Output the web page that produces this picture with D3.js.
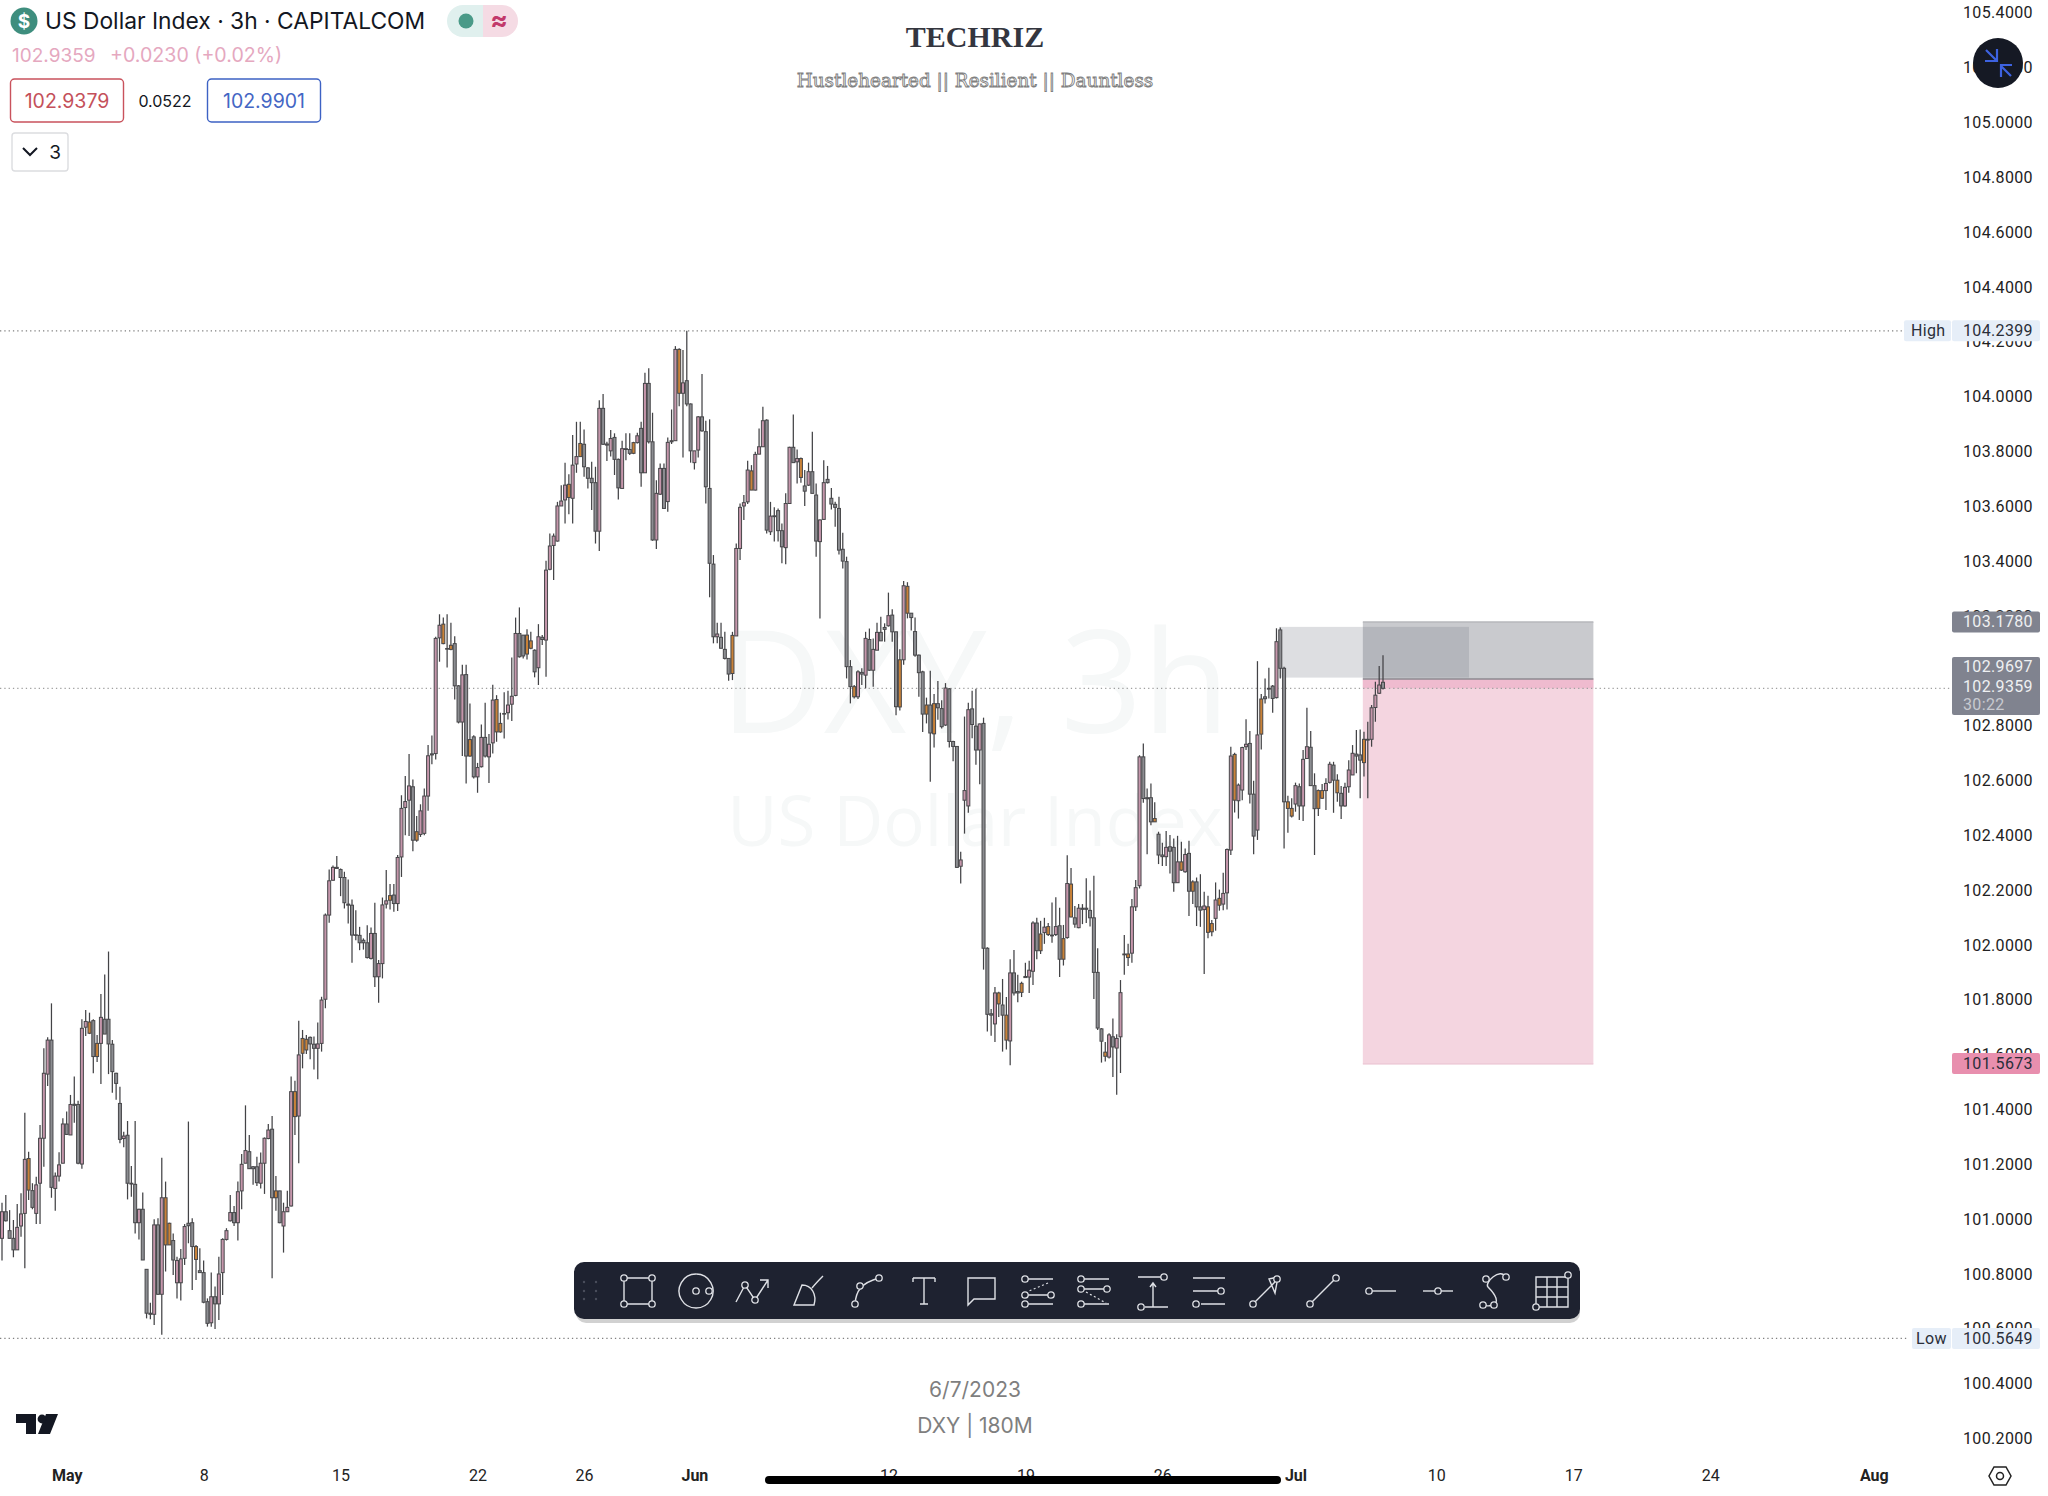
<!DOCTYPE html>
<html>
<head>
<meta charset="utf-8">
<title>US Dollar Index 3h</title>
<script src="https://cdn.jsdelivr.net/npm/d3@7"></script>
<style>
  html, body { margin: 0; padding: 0; background: #fff; }
  svg { display: block; }
  text { font-family: Inter, Roboto, sans-serif; }
</style>
</head>
<body>
<div id="chart"></div>
<script>
// candle values (one entry per 3h candle, oldest first)
var opens = [
100.930,101.027,100.958,100.930,100.888,100.975,101.021,101.221,101.104,101.021,
101.131,101.295,101.529,101.653,101.112,101.157,101.204,101.347,101.307,101.419,
101.418,101.201,101.700,101.719,101.724,101.641,101.641,101.729,101.729,101.638,
101.532,101.422,101.294,101.306,101.131,101.127,100.987,101.036,100.817,100.657,
100.653,100.979,100.726,101.078,100.985,100.922,100.768,100.768,100.857,100.985,
100.987,100.900,100.812,100.805,100.699,100.622,100.717,100.691,100.805,100.926,
100.994,101.024,100.987,101.103,101.204,101.246,101.191,101.191,101.131,101.204,
101.294,101.328,101.103,101.103,100.975,101.027,101.048,101.465,101.376,101.659,
101.656,101.663,101.638,101.623,101.641,101.802,102.109,102.236,102.283,102.275,
102.246,102.149,102.145,102.037,102.035,102.017,102.008,101.951,102.042,101.884,
101.932,102.149,102.180,102.182,102.151,102.321,102.501,102.528,102.577,102.413,
102.403,102.407,102.543,102.697,102.698,103.120,103.170,103.081,103.093,103.099,
102.945,102.813,102.986,102.749,102.759,102.613,102.650,102.757,102.686,102.737,
102.895,102.808,102.844,102.847,102.878,102.910,103.136,103.130,103.130,103.109,
103.075,103.011,103.122,103.112,103.370,103.457,103.473,103.601,103.623,103.680,
103.629,103.754,103.829,103.826,103.740,103.702,103.686,103.509,103.957,103.827,
103.802,103.851,103.771,103.665,103.810,103.807,103.832,103.832,103.884,103.722,
104.048,103.835,103.477,103.644,103.738,103.617,103.835,103.839,104.172,104.012,
104.058,103.973,103.759,103.805,103.926,103.872,103.665,103.389,103.124,103.122,
103.078,103.045,103.129,103.127,103.446,103.601,103.616,103.729,103.659,103.790,
103.817,103.914,103.507,103.565,103.584,103.511,103.449,103.610,103.815,103.762,
103.774,103.674,103.677,103.726,103.641,103.471,103.552,103.698,103.629,103.607,
103.592,103.443,103.398,103.015,102.942,102.905,102.994,102.984,103.114,103.002,
103.075,103.140,103.158,103.164,103.203,103.142,103.040,103.040,103.308,103.210,
103.143,103.057,102.996,102.875,102.875,102.880,102.880,102.862,102.802,102.934,
102.742,102.724,102.287,102.528,102.507,102.861,102.798,102.711,102.808,101.988,
101.749,101.712,101.825,101.781,101.744,101.650,101.898,101.830,101.860,101.885,
101.883,101.904,102.080,102.040,102.045,102.067,102.036,102.038,102.070,102.023,
102.027,102.222,102.099,102.063,102.134,102.134,102.126,102.099,101.900,101.694,
101.609,101.591,101.665,101.624,101.665,101.967,101.967,101.970,102.139,102.216,
102.686,102.537,102.537,102.461,102.404,102.328,102.322,102.358,102.356,102.227,
102.303,102.267,102.334,102.230,102.230,102.139,102.129,102.139,102.078,102.097,
102.170,102.149,102.190,102.346,102.695,102.526,102.565,102.723,102.735,102.550,
102.419,102.897,102.905,102.933,102.944,102.902,103.149,103.009,102.522,102.498,
102.514,102.577,102.507,102.680,102.721,102.581,102.563,102.563,102.563,102.593,
102.656,102.601,102.553,102.507,102.577,102.620,102.696,102.693,102.750,102.750,
102.750,102.866,102.918,102.958
];
var closes = [
101.027,100.994,100.930,100.888,100.970,101.019,101.218,101.106,101.043,101.125,
101.295,101.532,101.653,101.116,101.157,101.198,101.347,101.309,101.418,101.415,
101.204,101.696,101.721,101.678,101.593,101.593,101.736,101.675,101.639,101.538,
101.495,101.291,101.303,101.131,101.128,100.987,101.036,100.851,100.657,100.653,
100.979,100.726,101.078,100.906,100.906,100.851,100.849,100.855,100.973,100.976,
100.900,100.853,100.805,100.697,100.620,100.717,100.691,100.800,100.926,100.958,
101.024,100.987,101.100,101.200,101.250,101.184,101.184,101.133,101.204,101.295,
101.325,101.078,101.078,100.987,101.027,101.043,101.465,101.374,101.599,101.605,
101.617,101.639,101.623,101.639,101.799,102.109,102.234,102.283,102.279,102.246,
102.154,102.145,102.036,102.035,102.008,102.008,101.954,102.042,101.884,101.932,
102.146,102.161,102.163,102.151,102.319,102.498,102.523,102.580,102.382,102.382,
102.489,102.543,102.690,102.693,103.118,103.166,103.099,103.079,103.078,102.945,
102.813,102.985,102.689,102.689,102.613,102.647,102.757,102.689,102.732,102.893,
102.777,102.777,102.842,102.875,102.907,103.136,103.051,103.054,103.061,103.082,
102.996,103.124,103.114,103.367,103.455,103.491,103.601,103.619,103.677,103.632,
103.750,103.781,103.781,103.744,103.702,103.686,103.509,103.957,103.826,103.823,
103.847,103.771,103.667,103.810,103.807,103.793,103.793,103.857,103.722,104.048,
103.835,103.477,103.647,103.738,103.592,103.833,103.839,104.172,104.012,104.050,
103.973,103.802,103.802,103.926,103.875,103.671,103.392,103.124,103.134,103.082,
103.045,102.988,102.990,103.446,103.596,103.613,103.732,103.659,103.789,103.817,
103.912,103.513,103.564,103.562,103.511,103.452,103.610,103.815,103.759,103.774,
103.705,103.655,103.726,103.647,103.473,103.550,103.686,103.686,103.608,103.596,
103.440,103.400,103.015,102.942,102.905,102.996,102.988,103.118,103.002,103.078,
103.140,103.109,103.151,103.201,103.142,102.869,102.868,103.310,103.210,103.194,
103.057,102.993,102.842,102.842,102.773,102.770,102.865,102.796,102.937,102.742,
102.724,102.283,102.310,102.563,102.858,102.804,102.711,102.806,101.988,101.747,
101.744,101.825,101.785,101.744,101.653,101.898,101.825,101.825,101.827,101.881,
101.908,102.080,101.979,101.979,102.065,102.038,102.033,102.067,101.948,101.948,
102.224,102.102,102.076,102.134,102.130,102.130,102.099,101.900,101.697,101.649,
101.594,101.672,101.628,101.659,101.826,101.964,101.954,102.139,102.209,102.686,
102.534,102.533,102.449,102.449,102.328,102.322,102.356,102.342,102.227,102.303,
102.273,102.330,102.196,102.196,102.139,102.127,102.142,102.046,102.048,102.164,
102.145,102.188,102.348,102.689,102.528,102.583,102.720,102.732,102.550,102.397,
102.766,102.769,102.898,102.936,102.899,103.106,103.009,102.522,102.498,102.470,
102.581,102.507,102.677,102.723,102.581,102.497,102.498,102.535,102.589,102.659,
102.601,102.555,102.507,102.575,102.638,102.699,102.689,102.674,102.665,102.747,
102.865,102.911,102.948,102.936
];
var highs = [
101.060,101.088,101.033,100.997,101.055,101.094,101.388,101.246,101.131,101.155,
101.343,101.623,101.663,101.787,101.170,101.244,101.368,101.393,101.453,101.520,
101.432,101.729,101.763,101.753,101.729,101.672,101.821,101.892,101.976,101.653,
101.534,101.483,101.319,101.358,101.194,101.358,101.038,101.097,100.817,100.695,
101.000,101.003,101.224,101.137,100.987,100.948,100.863,100.891,100.982,101.356,
101.003,100.906,100.894,100.849,100.711,100.805,100.754,100.863,100.930,100.967,
101.088,101.048,101.137,101.238,101.415,101.307,101.194,101.228,101.243,101.298,
101.347,101.376,101.157,101.104,101.060,101.104,101.520,101.505,101.724,101.690,
101.672,101.666,101.666,101.717,101.811,102.115,102.275,102.290,102.324,102.279,
102.267,102.239,102.166,102.127,102.066,102.024,102.072,102.064,102.154,101.945,
102.173,102.273,102.222,102.222,102.328,102.546,102.616,102.696,102.603,102.470,
102.513,102.571,102.729,102.764,103.124,103.206,103.194,103.206,103.175,103.126,
102.948,103.022,103.022,102.881,102.765,102.664,102.804,102.883,102.769,102.949,
102.911,102.847,102.922,102.927,103.048,103.194,103.231,103.130,103.151,103.142,
103.078,103.170,103.130,103.401,103.501,103.501,103.616,103.677,103.759,103.717,
103.860,103.908,103.908,103.880,103.742,103.762,103.744,103.987,104.009,103.835,
103.878,103.866,103.774,103.839,103.866,103.866,103.835,103.868,103.908,104.087,
104.103,103.941,103.695,103.756,103.756,103.851,103.953,104.184,104.176,104.170,
104.240,103.975,103.802,103.929,104.082,103.912,103.917,103.422,103.175,103.175,
103.142,103.045,103.142,103.464,103.610,103.641,103.766,103.750,103.799,103.884,
103.963,103.917,103.616,103.596,103.592,103.537,103.647,103.817,103.935,103.807,
103.778,103.732,103.759,103.872,103.683,103.552,103.768,103.747,103.667,103.616,
103.635,103.503,103.416,103.039,102.948,103.002,103.009,103.142,103.154,103.118,
103.175,103.197,103.173,103.285,103.224,103.142,103.078,103.327,103.323,103.210,
103.194,103.059,103.000,102.902,103.000,102.915,102.963,102.892,102.955,102.937,
102.745,102.726,102.340,102.833,102.883,102.927,102.934,102.808,102.829,101.992,
101.766,101.847,101.829,101.876,101.810,101.948,101.982,101.891,101.866,101.935,
101.942,102.086,102.099,102.088,102.099,102.080,102.155,102.174,102.136,102.073,
102.327,102.281,102.142,102.149,102.149,102.243,102.199,102.252,101.988,101.697,
101.646,101.678,101.732,101.674,101.872,102.036,102.004,102.168,102.237,102.692,
102.735,102.571,102.589,102.520,102.413,102.373,102.416,102.401,102.388,102.398,
102.376,102.352,102.380,102.236,102.246,102.258,102.194,102.179,102.091,102.228,
102.202,102.263,102.352,102.723,102.701,102.589,102.723,102.823,102.780,102.599,
103.035,102.915,102.972,103.011,102.948,103.155,103.158,103.015,102.544,102.535,
102.592,102.589,102.711,102.865,102.780,102.626,102.567,102.587,102.608,102.668,
102.668,102.623,102.580,102.592,102.674,102.729,102.784,102.786,102.778,102.814,
102.875,102.960,103.017,103.057
];
var lows = [
100.849,100.991,100.930,100.861,100.888,100.936,100.821,101.070,101.036,100.982,
100.982,101.191,101.486,101.078,101.031,101.137,101.204,101.307,101.307,101.352,
101.200,101.184,101.668,101.675,101.532,101.573,101.493,101.675,101.529,101.461,
101.435,101.277,101.262,101.072,101.082,100.948,100.926,100.851,100.638,100.635,
100.614,100.723,100.578,100.809,100.906,100.796,100.711,100.703,100.833,100.912,
100.742,100.778,100.805,100.693,100.608,100.608,100.599,100.632,100.723,100.922,
100.991,100.975,100.922,101.036,101.204,101.184,101.125,101.121,101.112,101.092,
101.291,100.784,101.031,100.985,100.878,101.026,101.046,101.307,101.204,101.550,
101.602,101.583,101.546,101.510,101.611,101.769,102.081,102.234,102.278,102.178,
102.133,102.078,101.935,102.017,101.981,101.983,101.951,101.947,101.847,101.789,
101.878,102.133,102.129,102.121,102.124,102.248,102.400,102.397,102.342,102.376,
102.394,102.400,102.489,102.659,102.676,103.033,103.097,103.012,103.075,102.895,
102.808,102.689,102.589,102.686,102.607,102.555,102.647,102.684,102.591,102.698,
102.741,102.774,102.753,102.822,102.817,102.907,103.048,103.045,103.041,103.078,
102.976,102.948,103.094,102.978,103.367,103.331,103.471,103.601,103.537,103.571,
103.537,103.722,103.781,103.708,103.665,103.586,103.464,103.437,103.823,103.765,
103.781,103.714,103.625,103.665,103.768,103.787,103.790,103.829,103.671,103.722,
103.829,103.474,103.444,103.641,103.592,103.580,103.827,103.839,103.965,103.778,
103.965,103.759,103.734,103.778,103.872,103.610,103.268,103.100,103.100,103.082,
103.041,102.964,102.966,103.127,103.404,103.550,103.608,103.659,103.657,103.790,
103.817,103.501,103.495,103.471,103.471,103.392,103.388,103.610,103.759,103.683,
103.686,103.601,103.674,103.647,103.416,103.191,103.550,103.683,103.588,103.525,
103.424,103.373,102.972,102.881,102.899,102.897,102.948,102.936,103.000,102.942,
103.075,103.109,103.106,103.161,103.106,102.838,102.855,103.022,103.191,103.147,
103.051,102.905,102.777,102.808,102.595,102.720,102.821,102.789,102.799,102.720,
102.670,102.281,102.224,102.406,102.482,102.754,102.657,102.586,101.910,101.684,
101.669,101.646,101.737,101.611,101.619,101.561,101.816,101.791,101.810,101.883,
101.825,101.854,101.948,101.967,102.004,102.033,102.008,102.033,101.883,101.925,
102.023,102.101,102.063,102.061,102.076,102.080,102.067,101.803,101.690,101.571,
101.575,101.586,101.518,101.454,101.533,101.891,101.923,101.935,102.124,102.206,
102.519,102.331,102.437,102.449,102.295,102.288,102.288,102.261,102.194,102.227,
102.270,102.263,102.106,102.149,102.069,102.066,101.894,102.024,102.032,102.052,
102.125,102.127,102.129,102.328,102.483,102.461,102.528,102.711,102.516,102.331,
102.383,102.713,102.881,102.899,102.847,102.899,102.972,102.352,102.409,102.465,
102.486,102.456,102.452,102.680,102.581,102.328,102.470,102.532,102.492,102.589,
102.482,102.522,102.459,102.504,102.555,102.620,102.626,102.535,102.614,102.535,
102.723,102.814,102.915,102.932
];
// candles painted orange on the chart (1-based position in the lists above)
var orangeCandles = [8,24,26,44,45,52,73,78,80,81,103,110,117,119,124,131,132,139,140,150,153,167,179,193,198,
  211,225,237,239,244,246,263,265,269,274,276,280,282,291,297,304,311,314,318,319,321,325,332,339,340,347,348,352,359];

var priceTicks = [105.4,105.2,105.0,104.8,104.6,104.4,104.2,104.0,103.8,103.6,103.4,103.2,103.0,102.8,102.6,102.4,102.2,102.0,101.8,101.6,101.4,101.2,101.0,100.8,100.6,100.4,100.2];
var timeTickPos = [17,53,89,125,153,182,233,269,305,340,377,413,449,492];
var timeTickLabels = ["May","8","15","22","26","Jun","12","19","26","Jul","10","17","24","Aug"];
var boldTimeLabels = ["May","Jun","Jul","Aug"];

var lastPrice = 102.9359, highPrice = 104.2399, lowPrice = 100.5649;
var entryPrice = 102.9697, stopPrice = 103.1780, targetPrice = 101.5673;
var positionSpan = [357.7, 418.3];
var zoneSpan = [335.7, 385.6], zonePrices = [103.16, 102.975];

// set up the drawing
var width = 2048, height = 1496;
var svg = d3.select("#chart").append("svg")
  .attr("width", width)
  .attr("height", height);

var x = d3.scaleLinear().domain([0, opens.length - 1]).range([2, 1383]);
var y = d3.scaleLinear().domain([105.4, 100.2]).range([12.7, 1438.5]);

// watermark
svg.append("text").attr("x", 975).attr("y", 733).attr("text-anchor", "middle")
  .style("font-size", "143px").style("fill", "#f6f8f8").style("font-family", "'Open Sans', sans-serif").text("DXY, 3h");
svg.append("text").attr("x", 975).attr("y", 846).attr("text-anchor", "middle")
  .style("font-size", "69px").style("fill", "#f6f8f8").style("font-family", "'Open Sans', sans-serif").text("US Dollar Index");

// y axis
var yAxis = svg.append("g")
  .attr("transform", "translate(1963,0)")
  .call(d3.axisRight(y).tickValues(priceTicks).tickSize(0).tickPadding(0).tickFormat(d3.format(".4f")));
yAxis.select(".domain").remove();
yAxis.selectAll("text").style("font-size", "16px").style("font-family", "Roboto, sans-serif").style("fill", "#222").style("letter-spacing", "0.35px");

// x axis
var xAxis = svg.append("g")
  .attr("transform", "translate(0,1470)")
  .call(d3.axisBottom(x).tickValues(timeTickPos).tickSize(0).tickPadding(0)
    .tickFormat(function(d, i) { return timeTickLabels[i]; }));
xAxis.select(".domain").remove();
xAxis.selectAll("text").style("font-size", "16px").style("font-family", "Roboto, sans-serif").style("fill", "#222")
  .style("font-weight", function(d, i) { return boldTimeLabels.indexOf(timeTickLabels[i]) >= 0 ? "bold" : "normal"; });

// short position and zone boxes
svg.append("rect").attr("x", x(positionSpan[0])).attr("width", x(positionSpan[1]) - x(positionSpan[0]))
  .attr("y", y(entryPrice)).attr("height", y(targetPrice) - y(entryPrice)).style("fill", "#f4d5e0");
svg.append("rect").attr("x", x(positionSpan[0])).attr("width", x(positionSpan[1]) - x(positionSpan[0]))
  .attr("y", y(entryPrice)).attr("height", y(lastPrice) - y(entryPrice)).style("fill", "#efbbcf");
svg.append("rect").attr("x", x(positionSpan[0])).attr("width", x(positionSpan[1]) - x(positionSpan[0]))
  .attr("y", y(stopPrice)).attr("height", y(entryPrice) - y(stopPrice)).style("fill", "#c9cace");
svg.append("line").attr("x1", x(positionSpan[0])).attr("x2", x(positionSpan[1]))
  .attr("y1", y(stopPrice)).attr("y2", y(stopPrice)).style("stroke", "#b6b7bb").style("stroke-width", 1.5);
svg.append("rect").attr("x", x(positionSpan[0])).attr("width", x(positionSpan[1]) - x(positionSpan[0]))
  .attr("y", y(targetPrice) - 0.5).attr("height", 1.5).style("fill", "#edc8d6");
svg.append("rect").attr("x", x(zoneSpan[0])).attr("width", x(zoneSpan[1]) - x(zoneSpan[0]))
  .attr("y", y(zonePrices[0])).attr("height", y(zonePrices[1]) - y(zonePrices[0]))
  .style("fill", "#787b86").style("fill-opacity", 0.25);
svg.append("line").attr("x1", x(positionSpan[0])).attr("x2", x(positionSpan[1]))
  .attr("y1", y(entryPrice)).attr("y2", y(entryPrice)).style("stroke", "#8d8a90").style("stroke-width", 1.5);

// dotted price lines
[[highPrice, "#808080", 1904], [lastPrice, "#a0a0a0", 1952], [lowPrice, "#808080", 1908]].forEach(function(d) {
  svg.append("line").attr("x1", 0).attr("x2", d[2]).attr("y1", y(d[0])).attr("y2", y(d[0]))
    .style("stroke", d[1]).style("stroke-width", 1.3).style("stroke-dasharray", "1.3 3");
});

// candles
var candles = opens.map(function(o, i) {
  return { i: i, o: o, h: highs[i], l: lows[i], c: closes[i], orange: orangeCandles.indexOf(i + 1) >= 0 };
});
var candle = svg.append("g").selectAll("g").data(candles).enter().append("g");
candle.append("line")
  .attr("x1", function(d) { return x(d.i); })
  .attr("x2", function(d) { return x(d.i); })
  .attr("y1", function(d) { return y(d.h); })
  .attr("y2", function(d) { return y(d.l); })
  .style("stroke", "#434346").style("stroke-width", 1.25);
candle.append("rect")
  .attr("x", function(d) { return x(d.i) - 1.5; })
  .attr("width", 3)
  .attr("y", function(d) { return y(Math.max(d.o, d.c)); })
  .attr("height", function(d) { return Math.max(0.6, Math.abs(y(d.o) - y(d.c))); })
  .style("fill", function(d) { return d.orange ? "#c98238" : (d.c >= d.o ? "#c596ab" : "#8c8d91"); })
  .style("stroke", "#47474a").style("stroke-width", 1);

// price tags on the right
function tag(x0, x1, yc, h, fill) {
  svg.append("rect").attr("x", x0).attr("y", yc - h / 2).attr("width", x1 - x0).attr("height", h).attr("rx", 2).style("fill", fill);
}
function tagText(txt, yc, color, x0) {
  svg.append("text").attr("x", x0 || 1963).attr("y", yc).attr("dy", "0.32em").style("font-size", "16px")
    .style("font-family", "Roboto, sans-serif").style("letter-spacing", "0.35px").style("fill", color).text(txt);
}
tag(1904, 1951, y(highPrice), 21, "#e6eef8"); tag(1952, 2040, y(highPrice), 21, "#e6eef8");
tagText("High", y(highPrice), "#2a2e39", 1911); tagText(highPrice.toFixed(4), y(highPrice), "#2a2e39");
tag(1912, 1951, y(lowPrice), 21, "#e6eef8"); tag(1952, 2040, y(lowPrice), 21, "#e6eef8");
tagText("Low", y(lowPrice), "#2a2e39", 1916); tagText(lowPrice.toFixed(4), y(lowPrice), "#2a2e39");
tag(1952, 2040, y(stopPrice), 21, "#80838f"); tagText(stopPrice.toFixed(4), y(stopPrice), "#eef0f2");
tag(1952, 2040, 686, 58, "#80838f");
tagText(entryPrice.toFixed(4), 667, "#eef0f2"); tagText(lastPrice.toFixed(4), 687, "#eef0f2"); tagText("30:22", 705, "#c8cad0");
tag(1952, 2040, y(targetPrice), 21, "#e88fae"); tagText(targetPrice.toFixed(4), y(targetPrice), "#2a2e39");

// collapse button
svg.append("circle").attr("cx", 1998).attr("cy", 63).attr("r", 25).style("fill", "#151924");
svg.append("path").attr("d", "M1986 50 L1997 61 M1985 61 H1997 V49 M2011 76 L2001 66 M2001 77 V65 H2012")
  .style("fill", "none").style("stroke", "#3d62e0").style("stroke-width", 2.2);

// title
svg.append("text").attr("x", 975).attr("y", 47).attr("text-anchor", "middle")
  .style("font-family", "'Liberation Serif', serif").style("font-weight", "bold").style("font-size", "30px").style("fill", "#34363f").text("TECHRIZ");
svg.append("text").attr("x", 975).attr("y", 87).attr("text-anchor", "middle")
  .style("font-family", "'DejaVu Serif', serif").style("font-size", "18.4px").style("fill", "#fff").style("stroke", "#808080").style("stroke-width", 0.9)
  .text("Hustlehearted || Resilient || Dauntless");

// legend top left
svg.append("circle").attr("cx", 24).attr("cy", 21).attr("r", 13.5).style("fill", "#3e8e7e");
svg.append("text").attr("x", 24).attr("y", 28).attr("text-anchor", "middle").style("font-size", "19px").style("font-weight", "bold").style("fill", "#fff").text("$");
svg.append("text").attr("x", 45).attr("y", 29).style("font-size", "22.8px").style("fill", "#131722").text("US Dollar Index · 3h · CAPITALCOM");
svg.append("path").attr("d", "M483 5 H463 A16 16 0 0 0 463 37 H483 Z").style("fill", "#e0f0ee");
svg.append("path").attr("d", "M483 5 H502 A16 16 0 0 1 502 37 H483 Z").style("fill", "#f5dbe4");
svg.append("circle").attr("cx", 466).attr("cy", 21).attr("r", 7.5).style("fill", "#4a9a88");
svg.append("text").attr("x", 499).attr("y", 29).attr("text-anchor", "middle").style("font-size", "26px").style("font-weight", "bold").style("fill", "#c2396b").text("≈");
svg.append("text").attr("x", 12).attr("y", 62).style("font-size", "19px").style("fill", "#e5a8bf").text(lastPrice.toFixed(4));
svg.append("text").attr("x", 110).attr("y", 62).style("font-size", "19.6px").style("fill", "#e5a8bf").text("+0.0230 (+0.02%)");
svg.append("rect").attr("x", 10.5).attr("y", 79).attr("width", 113).attr("height", 43).attr("rx", 4).style("fill", "#fff").style("stroke", "#c9525c").style("stroke-width", 1.4);
svg.append("text").attr("x", 67).attr("y", 107.5).attr("text-anchor", "middle").style("font-size", "19.5px").style("fill", "#c4505a").text("102.9379");
svg.append("text").attr("x", 165).attr("y", 106.5).attr("text-anchor", "middle").style("font-size", "16px").style("fill", "#131722").text("0.0522");
svg.append("rect").attr("x", 207.5).attr("y", 79).attr("width", 113).attr("height", 43).attr("rx", 4).style("fill", "#fff").style("stroke", "#3d62c4").style("stroke-width", 1.4);
svg.append("text").attr("x", 264).attr("y", 107.5).attr("text-anchor", "middle").style("font-size", "19.5px").style("fill", "#4466c4").text("102.9901");
svg.append("rect").attr("x", 12).attr("y", 133).attr("width", 56).attr("height", 38).attr("rx", 3).style("fill", "#fff").style("stroke", "#dcdde0").style("stroke-width", 1.4);
svg.append("path").attr("d", "M23 148 L30 155 L37 148").style("fill", "none").style("stroke", "#131722").style("stroke-width", 2);
svg.append("text").attr("x", 55).attr("y", 159).attr("text-anchor", "middle").style("font-size", "19px").style("fill", "#131722").text("3");

// drawing toolbar
var toolbar = svg.append("g");
toolbar.append("rect").attr("x", 576).attr("y", 1265).attr("width", 1004).attr("height", 58).attr("rx", 10).style("fill", "#000").style("fill-opacity", 0.18);
toolbar.append("rect").attr("x", 574).attr("y", 1262).attr("width", 1006).attr("height", 57).attr("rx", 10).style("fill", "#1e2230");
d3.cross([584, 596], [1282, 1291, 1299]).forEach(function(p) {
  toolbar.append("circle").attr("cx", p[0]).attr("cy", p[1]).attr("r", 1.2).style("fill", "#4a4e5c");
});
var toolIcons = [
  { x: 638, d: "M-14 -13H14V13H-14Z", n: [[-14,-13],[14,-13],[-14,13],[14,13]] },
  { x: 696, d: "M0 -17A17 17 0 1 0 0.1 -17 M12 0", n: [[0,0],[13,0]] },
  { x: 753, d: "M-17 11L-8 -6L2 9L15 -11M7 -11H15V-3", n: [[-8,-6],[2,9]] },
  { x: 810, d: "M-16 14L-8 -6C2 -6 7 4 4 14Z M2 -3C6 -8 9 -11 13 -15", n: [] },
  { x: 867, d: "M-12 13C-11 0 -6 -8 12 -13", n: [[-12,13],[-7,-5],[12,-13]] },
  { x: 924, d: "M-11 -13H11 M-11 -13V-9 M11 -13V-9 M0 -13V13 M-4 13H4", n: [] },
  { x: 981, d: "M-13 -13H14V8H-7L-13 14Z", n: [] },
  { x: 1038, d: "M-11 -12H15 M-11 4H15 M-11 13H15", n: [[-13,-12],[13,4],[-13,4],[-13,13]], dash: "M10 -8L-9 0" },
  { x: 1094, d: "M-11 -12H15 M-11 -2H15 M-11 13H15", n: [[-13,-12],[-13,-2],[13,-2],[-13,13]], dash: "M-8 1L12 12" },
  { x: 1153, d: "M-15 -14H11 M-8 16H15 M0 -8V16 M-3 -4L0 -8L3 -4", n: [[11,-14],[-12,16]] },
  { x: 1209, d: "M-16 -13H16 M-16 0H12 M-8 13H16", n: [[12,0],[-13,13]] },
  { x: 1266, d: "M-13 13L13 -13 M3 -12L12 -14L9 2Z", n: [[-13,13],[11,-12]] },
  { x: 1323, d: "M-13 13L13 -13", n: [[-13,13],[13,-13]] },
  { x: 1381, d: "M-12 0H15", n: [[-12,0]] },
  { x: 1438, d: "M-15 0H15", n: [[0,0]] },
  { x: 1494, d: "M12 -14C6 -24 -10 -8 -6 -4C2 4 6 12 -2 14C-6 16 -10 14 -11 13", n: [[-8,-12],[12,-14],[-11,14],[0,14]] },
  { x: 1552, d: "M-16 -14H16V16H-16Z M-16 -4H16 M-16 6H16 M-5 -14V16 M5 -14V16", n: [[-16,16],[16,-16]] }
];
toolIcons.forEach(function(ic) {
  var g = toolbar.append("g").attr("transform", "translate(" + ic.x + ",1291)");
  g.append("path").attr("d", ic.d).style("fill", "none").style("stroke", "#dfe1e6").style("stroke-width", 1.4);
  if (ic.dash) g.append("path").attr("d", ic.dash).style("fill", "none").style("stroke", "#dfe1e6").style("stroke-width", 1.2).style("stroke-dasharray", "2 2.5");
  ic.n.forEach(function(p) {
    g.append("circle").attr("cx", p[0]).attr("cy", p[1]).attr("r", 3.2).style("fill", "#1e2230").style("stroke", "#dfe1e6").style("stroke-width", 1.3);
  });
});

// footer
svg.append("text").attr("x", 975).attr("y", 1397).attr("text-anchor", "middle").style("font-size", "21px").style("fill", "#7f7f7f").text("6/7/2023");
svg.append("text").attr("x", 975).attr("y", 1433).attr("text-anchor", "middle").style("font-size", "21px").style("fill", "#7f7f7f").text("DXY | 180M");

// tradingview logo
svg.append("path").attr("d", "M16 1414 H36 V1434 H26 V1423 H16 Z M50 1434 L58 1414 H46 L38 1434 Z").style("fill", "#131722");
svg.append("circle").attr("cx", 42).attr("cy", 1419).attr("r", 4.4).style("fill", "#131722");

// settings icon
svg.append("path").attr("d", "M1994 1467 H2006 L2011 1476 L2006 1485 H1994 L1989 1476 Z").style("fill", "none").style("stroke", "#222").style("stroke-width", 1.5);
svg.append("circle").attr("cx", 2000).attr("cy", 1476).attr("r", 3.5).style("fill", "none").style("stroke", "#222").style("stroke-width", 1.5);

// home indicator bar
svg.append("rect").attr("x", 765).attr("y", 1476).attr("width", 516).attr("height", 8).attr("rx", 4).style("fill", "#000");
</script>
</body>
</html>
